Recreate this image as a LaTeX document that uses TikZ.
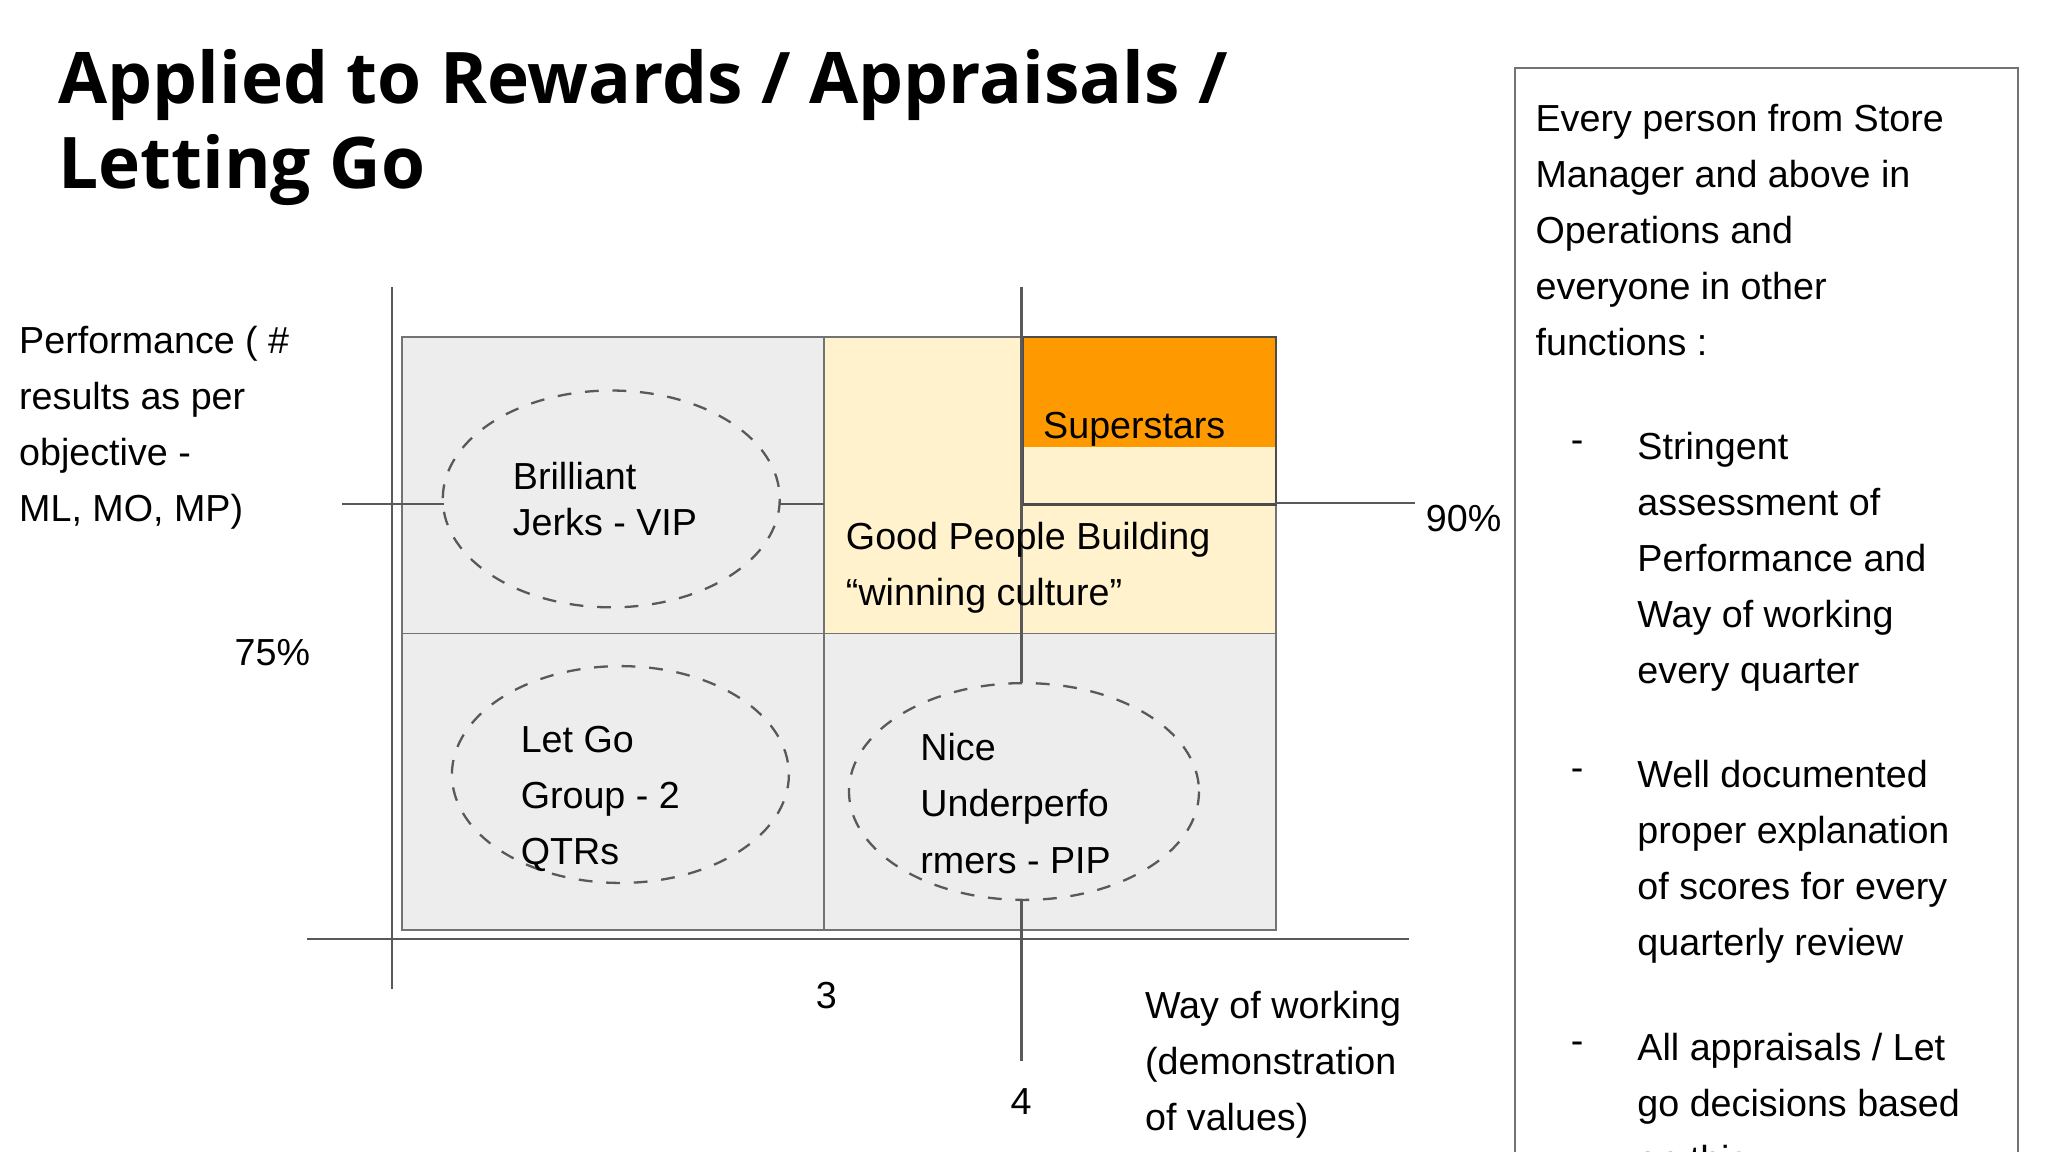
\documentclass[tikz,border=0pt]{standalone}
\usepackage{fontspec}
\setmainfont{Liberation Sans}
\newfontfamily\titlefont{Open Sans}
\definecolor{lightyel}{HTML}{FFF2CC}
\definecolor{orng}{HTML}{FF9900}
\begin{document}
\begin{tikzpicture}[x=0.01cm,y=-0.01cm,
  lbl/.style={anchor=north west,align=left,font=\fontsize{8.2}{12.2}\selectfont,inner sep=0pt},
  ax/.style={draw=black!65,line width=0.5pt},
  ell/.style={draw=black!65,dashed,line width=0.5pt}]
\useasboundingbox (0,0) rectangle (1568,882);
\fill[white] (0,0) rectangle (1568,882);
\node[anchor=west,inner sep=0pt,font=\titlefont\bfseries\fontsize{15.5}{18}\selectfont] (t1) at (44,65) {Applied to Rewards / Appraisals /};
\node[anchor=west,inner sep=0pt,font=\titlefont\bfseries\fontsize{15.5}{18}\selectfont] (t2) at (44,130) {Letting Go};
% right box
\draw[black!55,line width=0.5pt] (1160,882) |- (1545,52) -- (1545,882);
\node[lbl] (rt) at (1175,79) {Every person from Store\\Manager and above in\\Operations and\\everyone in other\\functions :};
\node[lbl] (d1) at (1202,337) {-};
\node[lbl] (b1) at (1253,330) {Stringent\\assessment of\\Performance and\\Way of working\\every quarter};
\node[lbl] (d2) at (1202,588) {-};
\node[lbl] (b2) at (1253,581) {Well documented\\proper explanation\\of scores for every\\quarterly review};
\node[lbl] (d3) at (1202,797) {-};
\begin{scope}
\clip (1161,0) rectangle (1544,882);
\node[lbl] (b3) at (1253,790) {All appraisals / Let\\go decisions based\\on this};
\end{scope}
% grid
\fill[black!7] (308,258) rectangle (977,712);
\fill[lightyel] (631,258) rectangle (977,485);
\fill[orng] (783,258) rectangle (977,342);
\draw[black!55] (308,258) rectangle (977,712);
\draw[black!55] (631,258) -- (631,712);
\draw[black!55] (308,485) -- (977,485);
\draw[black!70,line width=0.6pt] (783,258) rectangle (977,386);
% axes
\draw[ax] (300,220) -- (300,757);
\draw[ax] (235,719) -- (1079,719);
\draw[ax] (782,220) -- (782,523);
\draw[ax] (782,690) -- (782,812);
\draw[ax] (977,385) -- (1083,385);
\draw[ax] (262,386) -- (340,386);
\draw[ax] (597,386) -- (631,386);
% ellipses
\draw[ell] (468,382) ellipse [x radius=129,y radius=83];
\draw[ell] (475,593) ellipse [x radius=129,y radius=83];
\draw[ell] (784,606) ellipse [x radius=134,y radius=83];
% labels
\node[lbl] (perf) at (14,249) {Performance ( \#\\results as per\\objective -\\ML, MO, MP)};
\node[lbl] (p75) at (179,489) {75\%};
\node[lbl] (p90) at (1091,386) {90\%};
\node[lbl] (n3) at (624,751) {3};
\node[lbl] (n4) at (773,833) {4};
\node[lbl] (way) at (876,758) {Way of working\\(demonstration\\of values)};
\node[lbl,font=\fontsize{8.2}{10}\selectfont] (bj) at (392,353) {Brilliant\\Jerks - VIP};
\node[lbl] (lg) at (398,555) {Let Go\\Group - 2\\QTRs};
\node[lbl] (nu) at (704,561) {Nice\\Underperfo\\rmers - PIP};
\node[lbl] (ss) at (798,315) {Superstars};
\node[lbl] (gp) at (647,399) {Good People Building\\“winning culture”};
\end{tikzpicture}
\end{document}
